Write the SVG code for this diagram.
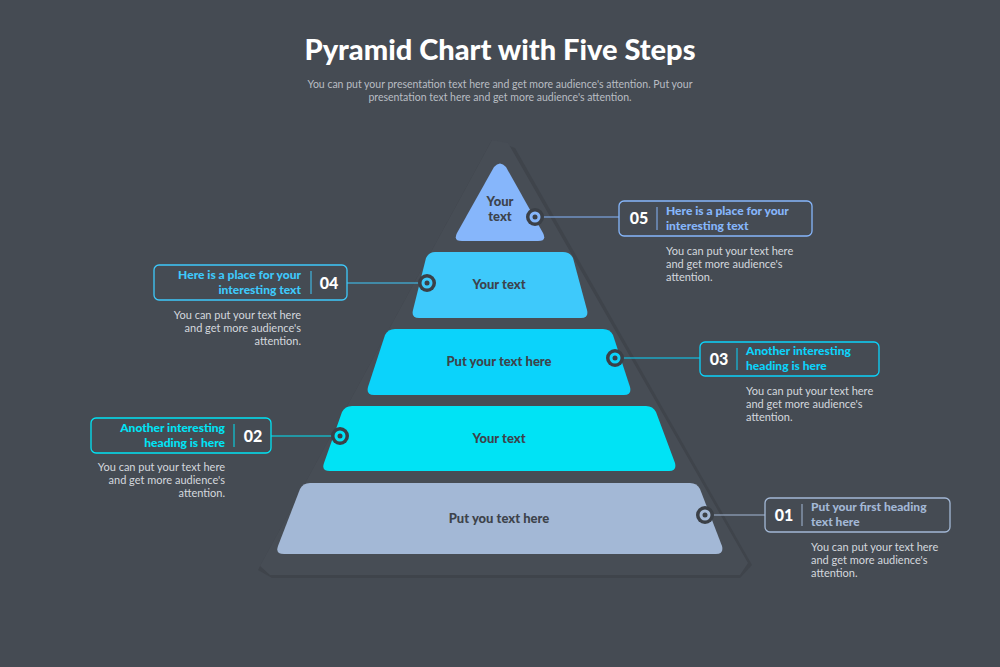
<svg xmlns="http://www.w3.org/2000/svg" width="1000" height="667" viewBox="0 0 1000 667">
<defs>
<style>
text{font-family:"Lato","Liberation Sans",sans-serif}
.tl{font-weight:900;font-size:13px;fill:#3d434b;text-anchor:middle}
.hd{font-weight:900;font-size:12px}
.num{font-weight:900;font-size:16px;fill:#fff;text-anchor:middle}
.bd{font-size:11px;fill:#d4d8de}
.box{fill:none;stroke-width:1.3}
.dk{fill:#3b4047}
.ln{stroke-width:1.2}
</style>
</defs>
<rect width="1000" height="667" fill="#454b53"/>
<text x="500" y="60" font-size="29" font-weight="900" fill="#fff" text-anchor="middle">Pyramid Chart with Five Steps</text>
<text x="500" y="88" font-size="10.5" fill="#b9bdc3" text-anchor="middle">You can put your presentation text here and get more audience's attention. Put your</text>
<text x="500" y="101" font-size="10.5" fill="#b9bdc3" text-anchor="middle">presentation text here and get more audience's attention.</text>
<g id="shadow">
<polygon points="492,140 515,148 752,565 740,578 272,578 258,570" fill="#3f444b"/>
<polygon points="492,140 508,143 748,563 740,575 270,575 260,566" fill="#474d55"/>
</g>
<g id="tier5"><path d="M310,483 H690 Q697,483 700,489 L722,546 Q724,554 716,554 H284 Q275,554 278,546 L300,489 Q303,483 310,483Z" fill="#a3b8d6"/><text class="tl" x="499" y="523">Put you text here</text></g>
<g id="tier4"><path d="M352,406 H646 Q653,406 656,412 L675,463 Q677,471 669,471 H330 Q321,471 324,463 L342,412 Q345,406 352,406Z" fill="#00e3f5"/><text class="tl" x="499" y="443">Your text</text></g>
<g id="tier3"><path d="M395,329 H603 Q610,329 613,335 L630,387 Q632,395 624,395 H374 Q366,395 368,387 L385,335 Q388,329 395,329Z" fill="#0bd3fb"/><text class="tl" x="499" y="366">Put your text here</text></g>
<g id="tier2"><path d="M435,252 H563 Q570,252 573,258 L587,310 Q589,318 581,318 H419 Q411,318 413,310 L426,258 Q429,252 435,252Z" fill="#3ec9fb"/><text class="tl" x="499" y="289">Your text</text></g>
<g id="tier1"><path d="M494,167 Q500,160 506,167 L543,233 Q547,241 538,241 H462 Q453,241 457,233Z" fill="#86b6fb"/><text class="tl" x="500" y="206">Your</text><text class="tl" x="500" y="221">text</text></g>
<g id="connectors">
<line class="ln" x1="535" y1="217" x2="619" y2="217" stroke="#86b6fb"/>
<line class="ln" x1="347" y1="283" x2="427" y2="283" stroke="#3ec9fb"/>
<line class="ln" x1="615" y1="358" x2="700" y2="358" stroke="#0bd3fb"/>
<line class="ln" x1="271" y1="436" x2="340" y2="436" stroke="#00e3f5"/>
<line class="ln" x1="705" y1="515" x2="765" y2="515" stroke="#a3b8d6"/>
</g>
<g id="dots">
<circle cx="535" cy="217" r="9" class="dk"/><circle cx="535" cy="217" r="5.5" fill="#86b6fb"/><circle cx="535" cy="217" r="2.5" class="dk"/>
<circle cx="427" cy="283" r="9" class="dk"/><circle cx="427" cy="283" r="5.5" fill="#3ec9fb"/><circle cx="427" cy="283" r="2.5" class="dk"/>
<circle cx="615" cy="358" r="9" class="dk"/><circle cx="615" cy="358" r="5.5" fill="#0bd3fb"/><circle cx="615" cy="358" r="2.5" class="dk"/>
<circle cx="340" cy="436" r="9" class="dk"/><circle cx="340" cy="436" r="5.5" fill="#00e3f5"/><circle cx="340" cy="436" r="2.5" class="dk"/>
<circle cx="705" cy="515" r="9" class="dk"/><circle cx="705" cy="515" r="5.5" fill="#a3b8d6"/><circle cx="705" cy="515" r="2.5" class="dk"/>
</g>
<g id="step05">
<rect class="box" x="619" y="201" width="193" height="35" rx="5" stroke="#86b6fb"/>
<text class="num" x="639" y="224">05</text><line x1="657" y1="207" x2="657" y2="230" stroke="#86b6fb"/>
<text class="hd" fill="#86b6fb" x="666" y="215">Here is a place for your</text><text class="hd" fill="#86b6fb" x="666" y="230">interesting text</text>
<text class="bd" x="666" y="255">You can put your text here</text><text class="bd" x="666" y="268">and get more audience's</text><text class="bd" x="666" y="281">attention.</text>
</g>
<g id="step04">
<rect class="box" x="154" y="265" width="193" height="35" rx="5" stroke="#3ec9fb"/>
<text class="num" x="329" y="289">04</text><line x1="311" y1="271" x2="311" y2="294" stroke="#3ec9fb"/>
<text class="hd" fill="#3ec9fb" x="301" y="279" text-anchor="end">Here is a place for your</text><text class="hd" fill="#3ec9fb" x="301" y="294" text-anchor="end">interesting text</text>
<text class="bd" x="301" y="319" text-anchor="end">You can put your text here</text><text class="bd" x="301" y="332" text-anchor="end">and get more audience's</text><text class="bd" x="301" y="345" text-anchor="end">attention.</text>
</g>
<g id="step03">
<rect class="box" x="700" y="342" width="179" height="34" rx="5" stroke="#0bd3fb"/>
<text class="num" x="719" y="365">03</text><line x1="737" y1="348" x2="737" y2="370" stroke="#0bd3fb"/>
<text class="hd" fill="#0bd3fb" x="746" y="355">Another interesting</text><text class="hd" fill="#0bd3fb" x="746" y="370">heading is here</text>
<text class="bd" x="746" y="395">You can put your text here</text><text class="bd" x="746" y="408">and get more audience's</text><text class="bd" x="746" y="421">attention.</text>
</g>
<g id="step02">
<rect class="box" x="91" y="418" width="180" height="35" rx="5" stroke="#00e3f5"/>
<text class="num" x="253" y="442">02</text><line x1="234" y1="424" x2="234" y2="447" stroke="#00e3f5"/>
<text class="hd" fill="#00e3f5" x="225" y="432" text-anchor="end">Another interesting</text><text class="hd" fill="#00e3f5" x="225" y="447" text-anchor="end">heading is here</text>
<text class="bd" x="225" y="471" text-anchor="end">You can put your text here</text><text class="bd" x="225" y="484" text-anchor="end">and get more audience's</text><text class="bd" x="225" y="497" text-anchor="end">attention.</text>
</g>
<g id="step01">
<rect class="box" x="765" y="498" width="185" height="34" rx="5" stroke="#a3b8d6"/>
<text class="num" x="784" y="521">01</text><line x1="802" y1="504" x2="802" y2="526" stroke="#a3b8d6"/>
<text class="hd" fill="#a3b8d6" x="811" y="511">Put your first heading</text><text class="hd" fill="#a3b8d6" x="811" y="526">text here</text>
<text class="bd" x="811" y="551">You can put your text here</text><text class="bd" x="811" y="564">and get more audience's</text><text class="bd" x="811" y="577">attention.</text>
</g>
</svg>
